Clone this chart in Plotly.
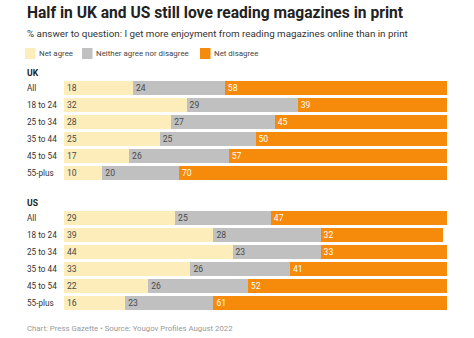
import plotly.graph_objects as go

categories = ["All", "18 to 24", "25 to 34", "35 to 44", "45 to 54", "55-plus"]
uk_agree = [18, 32, 28, 25, 17, 10]
uk_neither = [24, 29, 27, 25, 26, 20]
uk_disagree = [58, 39, 45, 50, 57, 70]
us_agree = [29, 39, 44, 33, 22, 16]
us_neither = [25, 28, 23, 26, 26, 23]
us_disagree = [47, 32, 33, 41, 52, 61]
series_names = ["Net agree", "Neither agree nor disagree", "Net disagree"]
colors = ["#FDEDBA", "#C0C0C0", "#F68A0A"]
text_colors = ["#4a4a4a", "#4a4a4a", "#FFFFFF"]

W, H = 474, 338
FONT = "Roboto"

fig = go.Figure()
groups = [("UK", [uk_agree, uk_neither, uk_disagree], "y"),
          ("US", [us_agree, us_neither, us_disagree], "y2")]
for gi, (gname, vals, yax) in enumerate(groups):
    for si in range(3):
        fig.add_trace(go.Bar(
            x=vals[si], y=categories, orientation="h",
            name=series_names[si], marker=dict(color=colors[si], line=dict(width=0)),
            text=[str(v) for v in vals[si]], texttemplate="%{text}",
            textposition="inside", insidetextanchor="start", constraintext="none",
            textangle=0,
            textfont=dict(family=FONT, size=8.6, color=text_colors[si]),
            showlegend=False, yaxis=yax, xaxis="x" if gi == 0 else "x2",
            hoverinfo="skip",
        ))

def py(px):
    return 1 - px / H

xdom = [64 / W, 447 / W]
ax_common = dict(showgrid=False, zeroline=False, showticklabels=False, ticks="", showline=False)
fig.update_layout(
    width=W, height=H, margin=dict(l=0, r=0, t=0, b=0),
    paper_bgcolor="white", plot_bgcolor="white",
    barmode="stack", bargap=0.18,
    font=dict(family=FONT, color="#333333"),
    xaxis=dict(domain=xdom, range=[0, 100], anchor="y", **ax_common),
    xaxis2=dict(domain=xdom, range=[0, 100], anchor="y2", **ax_common),
    yaxis=dict(domain=[py(181.5), py(79.5)], autorange="reversed", type="category", anchor="x", **ax_common),
    yaxis2=dict(domain=[py(311.5), py(209.5)], autorange="reversed", type="category", anchor="x2", **ax_common),
    showlegend=False,
)

ann = []
shapes = []
ann.append(dict(text="<b>Half in UK and US still love reading magazines in print</b>", x=25 / W, y=py(13),
                xref="paper", yref="paper", xanchor="left", yanchor="middle", showarrow=False,
                font=dict(family=FONT, size=15.6, color="#222222")))
ann.append(dict(text="% answer to question: I get more enjoyment from reading magazines online than in print",
                x=25 / W, y=py(34), xref="paper", yref="paper", xanchor="left", yanchor="middle",
                showarrow=False, font=dict(family=FONT, size=9.8, color="#333333")))
# legend (manual, to match compact spacing)
leg_swatch_x = [25, 82, 200]
for name, col, sx in zip(series_names, colors, leg_swatch_x):
    shapes.append(dict(type="rect", xref="paper", yref="paper", x0=sx / W, x1=(sx + 10.5) / W,
                       y0=py(59), y1=py(48), fillcolor=col, line=dict(width=0)))
    ann.append(dict(text=name, x=(sx + 12) / W, y=py(53.5), xref="paper", yref="paper",
                    xanchor="left", yanchor="middle", showarrow=False,
                    font=dict(family=FONT, size=7.9, color="#444444")))
for gname, yc, yref in [("UK", 73, "y"), ("US", 203, "y2")]:
    ann.append(dict(text=f"<b>{gname}</b>", x=25 / W, y=py(yc), xref="paper", yref="paper",
                    xanchor="left", yanchor="middle", showarrow=False,
                    font=dict(family=FONT, size=8.6, color="#222222")))
    for c in categories:
        ann.append(dict(text=c, x=25 / W, y=c, xref="paper", yref=yref, xanchor="left",
                        yanchor="middle", showarrow=False,
                        font=dict(family=FONT, size=8.2, color="#333333")))
ann.append(dict(text="Chart: Press Gazette • Source: Yougov Profiles August 2022", x=25 / W, y=py(328),
                xref="paper", yref="paper", xanchor="left", yanchor="middle", showarrow=False,
                font=dict(family=FONT, size=7.8, color="#9A9A9A")))
fig.update_layout(annotations=ann, shapes=shapes)

fig.write_html("out.html")
